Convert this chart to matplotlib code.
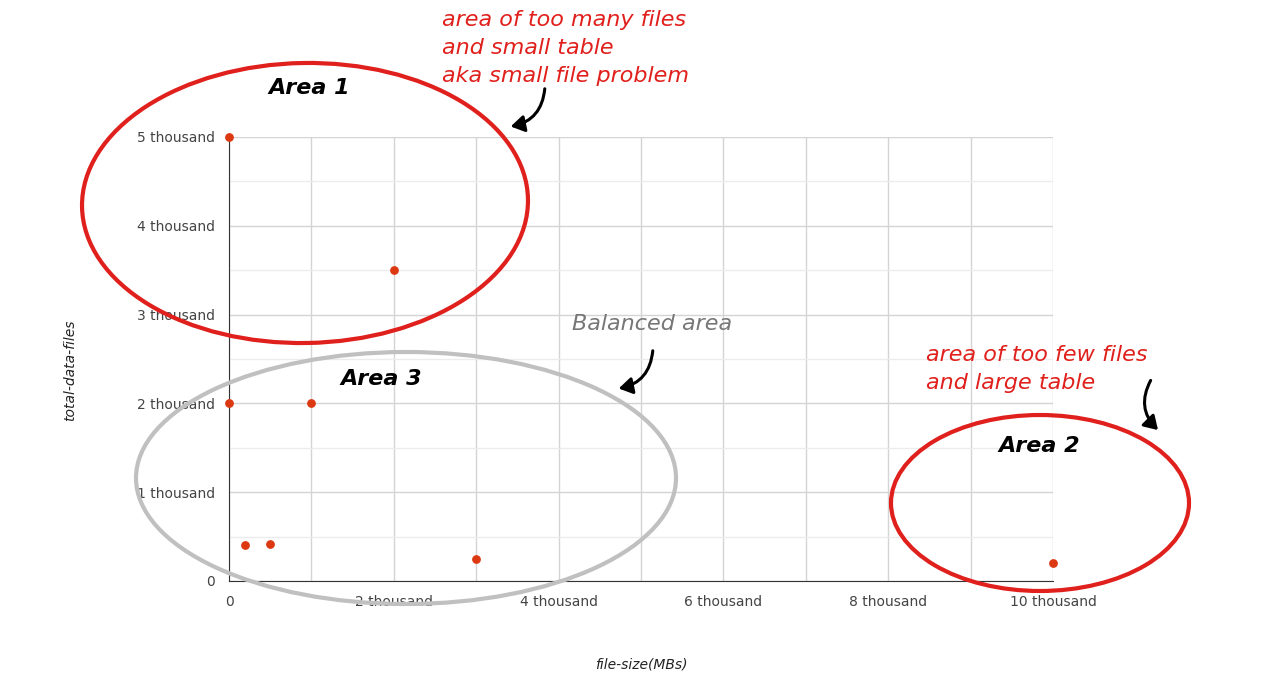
import matplotlib
matplotlib.use("Agg")
import matplotlib.pyplot as plt
from matplotlib.patches import Ellipse, FancyArrowPatch
from matplotlib.transforms import Affine2D

file_size = [0, 2000, 0, 1000, 200, 500, 3000, 10000]
total_files = [5000, 3500, 2000, 2000, 400, 420, 250, 200]
xticks = [0, 2000, 4000, 6000, 8000, 10000]
xlabels = ["0", "2 thousand", "4 thousand", "6 thousand", "8 thousand", "10 thousand"]
yticks = [0, 1000, 2000, 3000, 4000, 5000]
ylabels = ["0", "1 thousand", "2 thousand", "3 thousand", "4 thousand", "5 thousand"]

fig = plt.figure(figsize=(12.8, 6.89), dpi=100)
ax = fig.add_axes([229/1280, 108/689, 824/1280, 444/689])
ax.scatter(file_size, total_files, s=28, color="#dc3912", zorder=3, clip_on=False)
ax.set_xlim(0, 10000); ax.set_ylim(0, 5000)
ax.set_xticks(xticks); ax.set_xticklabels(xlabels)
ax.set_yticks(yticks); ax.set_yticklabels(ylabels)
ax.set_xticks(range(0, 10001, 1000), minor=True)
ax.set_yticks(range(0, 5001, 500), minor=True)
ax.grid(True, which="major", color="#d4d4d4", lw=1)
ax.grid(True, which="minor", axis="x", color="#d4d4d4", lw=1)
ax.grid(True, which="minor", axis="y", color="#ececec", lw=1)
ax.tick_params(which="both", length=0, colors="#444444", labelsize=10, pad=10)
for s in ["top", "right"]:
    ax.spines[s].set_visible(False)
ax.spines["left"].set_color("#333333"); ax.spines["bottom"].set_color("#333333")
ax.set_axisbelow(True)

fig.text(70/1280, 1-370/689, "total-data-files", rotation=90, style="italic",
         color="#222222", fontsize=10, ha="center", va="center")
fig.text(641/1280, 1-665/689, "file-size(MBs)", style="italic",
         color="#222222", fontsize=10, ha="center", va="center")

T = Affine2D().scale(1, -1).translate(0, 689)
red = "#e0201c"
for (cx, cy, w, h, ang, c) in [(305, 203, 446, 280, -1, red), (406, 478, 540, 252, 0, "#c0c0c0"),
                               (1040, 503, 298, 176, 0, red)]:
    fig.patches.append(Ellipse((cx, cy), w, h, angle=ang, fill=False, edgecolor=c, lw=3, transform=T))

def txt(x, y, s, c="black", size=15, weight="normal", style="italic"):
    fig.text(x, y, s, transform=T, color=c, fontsize=size, fontweight=weight, style=style,
             va="center", ha="left")

txt(268, 88, "Area 1", weight="bold", size=16)
txt(340, 379, "Area 3", weight="bold", size=16)
txt(998, 446, "Area 2", weight="bold", size=16)
txt(572, 324, "Balanced area", c="#777777", size=16)
for i, s in enumerate(["area of too many files", "and small table", "aka small file problem"]):
    txt(442, 20 + 28*i, s, c=red, size=16)
for i, s in enumerate(["area of too few files", "and large table"]):
    txt(926, 355 + 28*i, s, c=red, size=16)

for (a, b, rad) in [((545, 86), (508, 127), -0.4), ((653, 348), (616, 389), -0.4),
                    ((1152, 378), (1160, 432), 0.4)]:
    fig.patches.append(FancyArrowPatch(a, b, connectionstyle=f"arc3,rad={rad}",
                       arrowstyle="-|>,head_length=8,head_width=5", lw=2.2,
                       color="black", transform=T))

fig.savefig("out.png", dpi=100)
